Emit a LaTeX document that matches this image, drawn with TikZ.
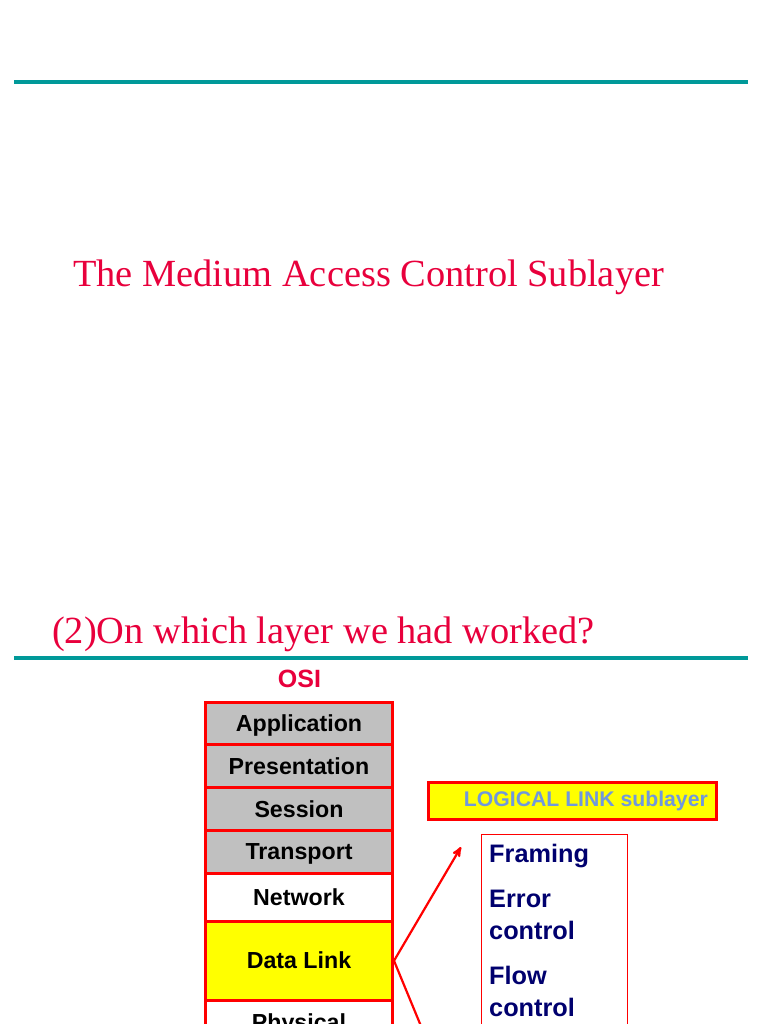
\documentclass[tikz,border=0pt]{standalone}
\usepackage{fontspec}
\setmainfont{Liberation Serif}
\setsansfont{Liberation Sans}
\usetikzlibrary{arrows}
\definecolor{slidered}{RGB}{232,0,60}
\definecolor{slideteal}{RGB}{0,153,153}
\definecolor{slidenavy}{RGB}{0,0,110}
\definecolor{slideblue}{RGB}{112,152,220}
\definecolor{slidegray}{RGB}{192,192,192}
\definecolor{slideyellow}{RGB}{255,255,0}

\begin{document}
\begin{tikzpicture}[x=1pt,y=-1pt,node distance=42.75pt,>=stealth']
		\tikzstyle{headline}=[anchor=base west, inner sep=0pt, text=slidered, font=\fontsize{38.4}{38.4}\selectfont]
		\tikzstyle{rule}=[draw=slideteal, line width=3.5pt]
		\tikzstyle{layer}=[rectangle, draw=red, line width=3pt, minimum width=187pt, minimum height=42.75pt, inner sep=0pt, text=black, text height=16pt, text depth=0pt, font=\sffamily\bfseries\fontsize{23.2}{23.2}\selectfont]
		\tikzstyle{upper}=[layer, fill=slidegray]
		\tikzstyle{item}=[anchor=base west, inner sep=0pt, text=slidenavy, font=\sffamily\bfseries\fontsize{25.3}{25.3}\selectfont]

		\useasboundingbox (0,0) rectangle (768,1024);
		\clip (0,0) rectangle (768,1024);

		\coordinate (rule1a) at (14,82);
		\coordinate (rule1b) at (748,82);
		\coordinate (rule2a) at (14,658);
		\coordinate (rule2b) at (748,658);
		\draw [rule] (rule1a) -- (rule1b);
		\draw [rule] (rule2a) -- (rule2b);

		\node [headline] (title) at (73,286) {The Medium Access Control Sublayer};
		\node [headline] (question) at (52,643) {(2)On which layer we had worked?};

		\node [inner sep=0pt, text=slidered, font=\sffamily\bfseries\fontsize{25}{25}\selectfont] (osi) at (299.5,679) {OSI};

		% the stack
		\node [upper] (app) at (299,723.5) {Application};
		\node [upper] (pres) [below of=app] {Presentation};
		\node [upper] (sess) [below of=pres] {Session};
		\node [upper] (trans) [below of=sess] {Transport};
		\node [layer, fill=white, minimum height=48pt, node distance=45.5pt] (net) [below of=trans] {Network};
		\node [layer, fill=slideyellow, minimum height=79pt, node distance=63.5pt] (dll) [below of=net] {Data Link};
		\node [layer, fill=white, minimum height=44pt, node distance=61.5pt] (phy) [below of=dll] {Physical};

		% sublayer label and function list
		\node [rectangle, draw=red, fill=slideyellow, line width=3pt, minimum width=288pt, minimum height=37pt, inner sep=0pt] (llc) at (572.5,801) {};
		\node [anchor=base east, inner sep=0pt, text=slideblue, font=\sffamily\bfseries\fontsize{21.2}{21.2}\selectfont] (llctext) at (708,806.5) {LOGICAL LINK sublayer};
		\node [rectangle, anchor=north west, color=red, draw, line width=1.4pt, minimum width=145.5pt, minimum height=260pt, inner sep=0pt] (funcs) at (481,833.5) {};
		\node [item] (framing) at (489,862) {Framing};
		\node [item] (error) at (489,907.5) {Error};
		\node [item] (errctl) at (489,939) {control};
		\node [item] (flow) at (489,984) {Flow};
		\node [item] (flowctl) at (489,1016) {control};

		\coordinate (up) at (461,847);
		\coordinate (down) at (435,1060);
		\draw [->, draw=red, line width=2.2pt] (dll.east) -- (up);
		\draw [draw=red, line width=2.2pt] (dll.east) -- (down);
	\end{tikzpicture}
\end{document}
